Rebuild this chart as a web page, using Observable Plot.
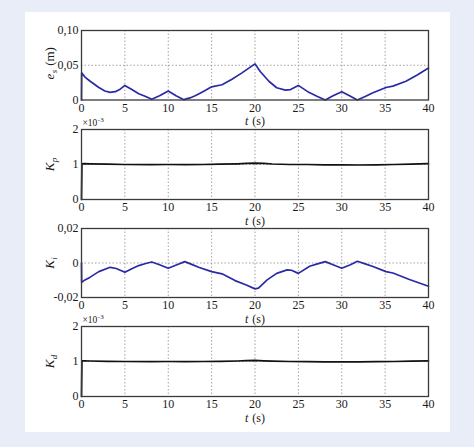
<!DOCTYPE html>
<html><head><meta charset="utf-8">
<script src="https://cdn.jsdelivr.net/npm/d3@7"></script>
<script src="https://cdn.jsdelivr.net/npm/@observablehq/plot@0.6"></script>
<style>
html,body{margin:0;padding:0;background:#e8edf8;}
#page{position:relative;width:474px;height:447px;overflow:hidden;background:#e8edf8;}
#panel{position:absolute;left:25px;top:12px;width:425px;height:420px;background:#fff;}
#page svg{position:absolute;left:0;top:0;}
</style></head><body><div id="page"><div id="panel"></div></div>
<script>
// ---- data ----
const tTicks = [0,5,10,15,20,25,30,35,40];
const gridT = [5,10,15,20,25,30,35];

const esT = [0,0.02,0.4,1,2,2.7,3.3,3.9,4.5,5,5.8,6.6,7.4,8.1,9,10,10.9,11.8,12.5,13.1,14,15,16.2,17.3,18.5,20,20.6,21.6,22.5,23.5,24.1,25,26.2,27.2,28.1,29,30,30.9,31.8,32.7,33.6,35.1,35.9,37.4,38.7,40];
const esV = [0,0.039,0.033,0.027,0.018,0.013,0.011,0.012,0.016,0.021,0.015,0.009,0.005,0.001,0.006,0.013,0.006,0.0005,0.003,0.006,0.012,0.019,0.022,0.0295,0.039,0.052,0.041,0.027,0.0176,0.0143,0.015,0.021,0.011,0.005,0,0.006,0.012,0.006,0,0.005,0.0105,0.018,0.02,0.027,0.036,0.046];

const kpT = [0,0.05,0.3,1,3,5,8,10,12,14,16,18,19,20,21,22,24,26,28,30,32,34,36,38,40];
const kpV = [0,1.02,1.025,1.02,1.01,1.0,0.995,1.0,0.995,1.0,1.01,1.02,1.03,1.04,1.03,1.015,1.0,1.0,0.99,0.99,0.985,0.99,1.0,1.01,1.025];

const kiT = [0,0.02,0.4,1,2,3.3,4,5,5.8,6.6,7.4,8.1,9,10,11,11.9,12.7,13.5,15,16.2,17.7,19,20,20.4,21.4,22.5,23.7,24.2,25,26.3,27.2,28.1,29,30,31,31.8,32.7,33.6,35.1,35.9,37.8,40];
const kiV = [0,-0.0112,-0.0098,-0.0082,-0.005,-0.0025,-0.0032,-0.0054,-0.0033,-0.0015,-0.0003,0.0006,-0.001,-0.003,-0.001,0.0008,-0.0008,-0.0025,-0.005,-0.0063,-0.0102,-0.0128,-0.015,-0.0146,-0.0098,-0.006,-0.004,-0.0042,-0.006,-0.0019,-0.0005,0.0008,-0.001,-0.003,-0.001,0.001,-0.0005,-0.002,-0.005,-0.0058,-0.0096,-0.0135];

const kdT = [0,0.05,0.3,1,3,5,8,10,12,14,16,18,19,20,21,22,24,26,28,30,32,34,36,38,40];
const kdV = [0,1.02,1.02,1.015,1.005,1.0,0.995,1.0,0.995,1.0,1.005,1.015,1.025,1.03,1.02,1.01,1.0,0.995,0.99,0.99,0.99,0.995,1.0,1.01,1.02];

const esTicks = [0,0.05,0.10];
const kpTicks = [0,1,2];
const kiTicks = [-0.02,0,0.02];
const kdTicks = [0,1,2];

// ---- helpers ----
const FONT = '"Liberation Serif","Times New Roman","Liberation Sans",Arial,sans-serif';
const INK = "#1a1a1a";
const FS = 12;
const ctx = document.createElement("canvas").getContext("2d");
function textWidth(s, size, italic){
  ctx.font = `${italic ? "italic " : ""}${size}px ${FONT}`;
  return ctx.measureText(s).width;
}
// segments drawn side by side; gap = extra space before a segment
function rich(segs, {frameAnchor, dx = 0, dy = 0, rotate = 0, align = "middle"}) {
  const widths = segs.map(s => textWidth(s.text, s.size, s.italic) + (s.gap || 0));
  const total = d3.sum(widths);
  let cum = align === "middle" ? -total / 2 : 0;
  return segs.map((s, i) => {
    const off = cum + (s.gap || 0); cum += widths[i];
    const shift = s.shift || 0;
    const pos = rotate === -90 ? {dx: dx + shift, dy: dy - off} : {dx: dx + off, dy: dy + shift};
    return Plot.text([s.text], {
      frameAnchor, text: d => d, rotate, textAnchor: "start", lineAnchor: "bottom",
      fontSize: s.size, fontStyle: s.italic ? "italic" : "normal", fontFamily: FONT, fill: INK, ...pos
    });
  });
}
const commaFmt = d => d === 0 ? "0" : d.toFixed(2).replace(".", ",");

function panel({T, B, yDomain, yTicks, yFmt, yGrid, xs, ys, color, ylab, ylabDy = 0, exp}) {
  const gridStyle = {stroke: "#8a8a8a", strokeOpacity: 1, strokeWidth: 0.8, strokeDasharray: "1.5,2"};
  const marks = [
    Plot.gridX(gridT, gridStyle),
    Plot.gridY([yGrid], gridStyle),
    Plot.line({length: xs.length}, {x: xs, y: ys, stroke: color, strokeWidth: 1.7}),
    Plot.frame({stroke: "#3a3a3a", strokeWidth: 1.3}),
    Plot.axisX({ticks: tTicks, tickSize: 0, tickPadding: 3, label: null, fill: INK, fontFamily: FONT}),
    Plot.axisY({ticks: yTicks, tickSize: 0, tickPadding: 3, tickFormat: yFmt, label: null, fill: INK, fontFamily: FONT}),
    ...rich([{text: "t", italic: true, size: FS}, {text: "(s)", size: FS, gap: 4}], {frameAnchor: "bottom", dy: 25}),
    ...rich(ylab, {frameAnchor: "left", dx: 53 - 81, dy: ylabDy, rotate: -90})
  ];
  if (exp) marks.push(...rich([{text: "×10", size: 9.5}, {text: "-3", size: 7, shift: -4, gap: 0.5}],
    {frameAnchor: "top-left", dx: 1, dy: -3.5, align: "start"}));
  return Plot.plot({
    width: 474, height: 447,
    marginLeft: 81, marginRight: 46, marginTop: T, marginBottom: 447 - B,
    x: {domain: [0, 40]},
    y: {domain: yDomain},
    style: {fontFamily: FONT, fontSize: FS + "px", color: INK, background: "transparent", overflow: "visible"},
    marks
  });
}

const page = document.getElementById("page");
page.append(panel({T: 30, B: 99.5, yDomain: [0, 0.10], yTicks: esTicks, yFmt: commaFmt, yGrid: 0.05,
  xs: esT, ys: esV, color: "#2a2aa6",
  ylab: [{text: "e", italic: true, size: 13}, {text: "s", italic: true, size: 9, shift: 3, gap: 0.3}, {text: "(m)", size: 13, gap: 4}], ylabDy: -2}));
page.append(panel({T: 129, B: 199, yDomain: [0, 2], yTicks: kpTicks, yFmt: d => String(d), yGrid: 1,
  xs: kpT, ys: kpV, color: "#111",
  ylab: [{text: "K", italic: true, size: 13}, {text: "p", italic: true, size: 9, shift: 3, gap: 0.3}], exp: true}));
page.append(panel({T: 228, B: 297, yDomain: [-0.02, 0.02], yTicks: kiTicks, yFmt: commaFmt, yGrid: 0,
  xs: kiT, ys: kiV, color: "#2a2aa6",
  ylab: [{text: "K", italic: true, size: 13}, {text: "i", italic: true, size: 9, shift: 3, gap: 0.3}]}));
page.append(panel({T: 326, B: 396, yDomain: [0, 2], yTicks: kdTicks, yFmt: d => String(d), yGrid: 1,
  xs: kdT, ys: kdV, color: "#111",
  ylab: [{text: "K", italic: true, size: 13}, {text: "d", italic: true, size: 9, shift: 3, gap: 0.3}], exp: true}));
</script></body></html>
